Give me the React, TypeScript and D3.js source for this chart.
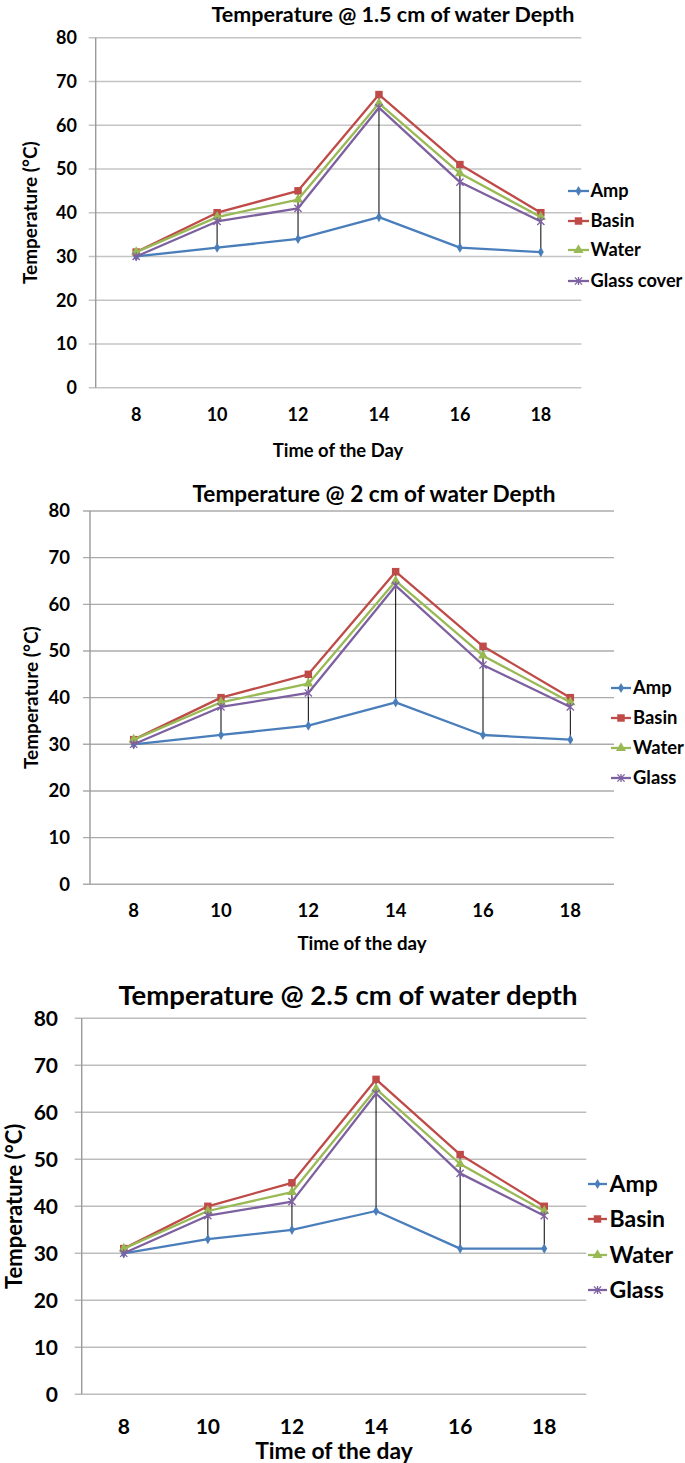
import React from "react";
import * as d3 from "d3";

// Hours of the day on the category axis
const hours = ["8", "10", "12", "14", "16", "18"];
const yTicks = [0, 10, 20, 30, 40, 50, 60, 70, 80];

// 1.5 cm water depth
const amp15 = [30, 32, 34, 39, 32, 31];
const basin15 = [31, 40, 45, 67, 51, 40];
const water15 = [31, 39, 43, 65, 49, 39];
const glass15 = [30, 38, 41, 64, 47, 38];
const names15 = ["Amp", "Basin", "Water", "Glass cover"];

// 2 cm water depth
const amp20 = [30, 32, 34, 39, 32, 31];
const basin20 = [31, 40, 45, 67, 51, 40];
const water20 = [31, 39, 43, 65, 49, 39];
const glass20 = [30, 38, 41, 64, 47, 38];
const names20 = ["Amp", "Basin", "Water", "Glass"];

// 2.5 cm water depth
const amp25 = [30, 33, 35, 39, 31, 31];
const basin25 = [31, 40, 45, 67, 51, 40];
const water25 = [31, 39, 43, 65, 49, 39];
const glass25 = [30, 38, 41, 64, 47, 38];
const names25 = ["Amp", "Basin", "Water", "Glass"];

const titles = [
  "Temperature @ 1.5 cm of water Depth",
  "Temperature @ 2 cm of water Depth",
  "Temperature @ 2.5 cm of water depth",
];
const xTitles = ["Time of the Day", "Time of the day", "Time of the day"];
const yTitle = "Temperature (°C)";

const seriesColors = ["#4A7EBB", "#BE4B48", "#98B954", "#7D60A0"];
const markerKinds = ["diamond", "square", "triangle", "star"];

const FONT = "Lato, 'Open Sans', 'DejaVu Sans', sans-serif";

type Layout = {
  left: number; right: number; top: number; bottom: number;
  titleX: number; titleY: number; titleSize: number;
  tickSize: number; yLabelRight: number; xLabelY: number;
  xTitleX: number; xTitleY: number; xTitleSize: number;
  yTitleX: number; yTitleSize: number;
  legLine: [number, number]; legTextX: number; legY: number[]; legSize: number;
  grid: string;
};

const layouts: Layout[] = [
  {
    left: 95.7, right: 581.3, top: 37.7, bottom: 387.7,
    titleX: 393, titleY: 21.5, titleSize: 21.5,
    tickSize: 18, yLabelRight: 77, xLabelY: 420.5,
    xTitleX: 338, xTitleY: 457, xTitleSize: 18.4,
    yTitleX: 30, yTitleSize: 19,
    legLine: [568, 589], legTextX: 590.5, legY: [191, 221, 250, 281], legSize: 18.2,
    grid: "#C4C4C4",
  },
  {
    left: 90, right: 614, top: 511, bottom: 884.3,
    titleX: 374, titleY: 502, titleSize: 22.6,
    tickSize: 18.5, yLabelRight: 70, xLabelY: 917,
    xTitleX: 362, xTitleY: 950, xTitleSize: 18.7,
    yTitleX: 31, yTitleSize: 19,
    legLine: [611, 631], legTextX: 633, legY: [688, 718, 748, 778], legSize: 18.4,
    grid: "#ABABAB",
  },
  {
    left: 81.7, right: 586.3, top: 1018.3, bottom: 1394.3,
    titleX: 348, titleY: 1005, titleSize: 27.5,
    tickSize: 21, yLabelRight: 58, xLabelY: 1433.5,
    xTitleX: 334, xTitleY: 1459, xTitleSize: 22.8,
    yTitleX: 14, yTitleSize: 22,
    legLine: [588, 607], legTextX: 609.5, legY: [1184, 1219, 1255, 1290], legSize: 23,
    grid: "#BDBDBD",
  },
];

const panelSeries = [
  { names: names15, values: [amp15, basin15, water15, glass15] },
  { names: names20, values: [amp20, basin20, water20, glass20] },
  { names: names25, values: [amp25, basin25, water25, glass25] },
];

function Marker({ kind, x, y, color }: { kind: string; x: number; y: number; color: string }) {
  if (kind === "star") {
    const r = 3.6;
    return (
      <path
        d={`M${x - r},${y - r}L${x + r},${y + r}M${x - r},${y + r}L${x + r},${y - r}M${x},${y - r - 0.5}L${x},${y + r + 0.5}`}
        stroke={color}
        strokeWidth={1.3}
        fill="none"
      />
    );
  }
  const type = kind === "diamond" ? d3.symbolDiamond : kind === "square" ? d3.symbolSquare : d3.symbolTriangle;
  const size = kind === "diamond" ? 30 : kind === "square" ? 56 : 44;
  const d = d3.symbol().type(type).size(size)() as string;
  return <path d={d} transform={`translate(${x},${y})`} fill={color} />;
}

function Panel({ idx }: { idx: number }) {
  const L = layouts[idx];
  const { names, values } = panelSeries[idx];
  const x = d3.scaleBand<string>().domain(hours).range([L.left, L.right]).padding(0);
  const y = d3.scaleLinear().domain([0, 80]).range([L.bottom, L.top]);
  const cx = (h: string) => (x(h) as number) + x.bandwidth() / 2;
  const line = d3
    .line<number>()
    .x((_, i) => cx(hours[i]))
    .y((v) => y(v));

  return (
    <g fontFamily={FONT} fontWeight="bold" fill="#000">
      <text x={L.titleX} y={L.titleY} fontSize={L.titleSize} textAnchor="middle">
        {titles[idx]}
      </text>
      {yTicks.map((t) => (
        <g key={t}>
          <line x1={L.left - 7} x2={L.right} y1={y(t)} y2={y(t)} stroke={L.grid} strokeWidth={1.4} />
          <text x={L.yLabelRight} y={y(t)} dy="0.35em" fontSize={L.tickSize} textAnchor="end">
            {t}
          </text>
        </g>
      ))}
      <line x1={L.left} x2={L.left} y1={L.top} y2={L.bottom} stroke="#9A9A9A" strokeWidth={1.4} />
      {hours.map((h) => (
        <text key={h} x={cx(h)} y={L.xLabelY} fontSize={L.tickSize} textAnchor="middle">
          {h}
        </text>
      ))}
      <text x={L.xTitleX} y={L.xTitleY} fontSize={L.xTitleSize} textAnchor="middle">
        {xTitles[idx]}
      </text>
      <text
        transform={`translate(${L.yTitleX},${(L.top + L.bottom) / 2}) rotate(-90)`}
        dy="0.35em"
        fontSize={L.yTitleSize}
        textAnchor="middle"
      >
        {yTitle}
      </text>
      {/* high-low lines joining the highest and lowest reading of each hour */}
      {hours.map((h, i) => {
        const vals = values.map((s) => s[i]);
        return (
          <line
            key={"hl" + h}
            x1={cx(h)}
            x2={cx(h)}
            y1={y(d3.max(vals) as number)}
            y2={y(d3.min(vals) as number)}
            stroke="#000"
            strokeWidth={1}
          />
        );
      })}
      {values.map((s, si) => (
        <g key={"s" + si}>
          <path d={line(s) as string} fill="none" stroke={seriesColors[si]} strokeWidth={2.3} strokeLinejoin="round" />
          {s.map((v, i) => (
            <Marker key={i} kind={markerKinds[si]} x={cx(hours[i])} y={y(v)} color={seriesColors[si]} />
          ))}
        </g>
      ))}
      {names.map((n, si) => (
        <g key={"leg" + n}>
          <line
            x1={L.legLine[0]}
            x2={L.legLine[1]}
            y1={L.legY[si]}
            y2={L.legY[si]}
            stroke={seriesColors[si]}
            strokeWidth={2.3}
          />
          <Marker kind={markerKinds[si]} x={(L.legLine[0] + L.legLine[1]) / 2} y={L.legY[si]} color={seriesColors[si]} />
          <text x={L.legTextX} y={L.legY[si]} dy="0.35em" fontSize={L.legSize}>
            {n}
          </text>
        </g>
      ))}
    </g>
  );
}

export default function App() {
  return (
    <svg
      width={685}
      height={1463}
      viewBox="0 0 685 1463"
      style={{ position: "absolute", left: 0, top: 0, display: "block", background: "#fff" }}
    >
      <rect width={685} height={1463} fill="#fff" />
      {[0, 1, 2].map((i) => (
        <Panel key={i} idx={i} />
      ))}
    </svg>
  );
}
